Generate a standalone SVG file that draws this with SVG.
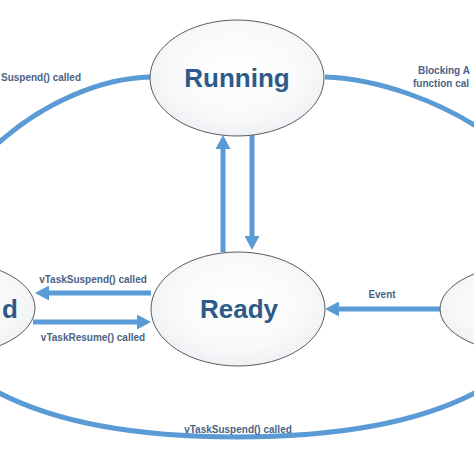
<svg xmlns="http://www.w3.org/2000/svg" width="474" height="474" viewBox="0 0 474 474">
  <defs>
    <radialGradient id="nodeFill" cx="50%" cy="45%" r="60%">
      <stop offset="0" stop-color="#ffffff"/>
      <stop offset="0.65" stop-color="#f8f9fa"/>
      <stop offset="1" stop-color="#eceef2"/>
    </radialGradient>
    <marker id="arrow" viewBox="0 0 14 15" markerWidth="14" markerHeight="15" refX="4" refY="7.5" orient="auto" markerUnits="userSpaceOnUse">
      <path d="M0,0 L14,7.5 L0,15 z" fill="#5b9bd5"/>
    </marker>
  </defs>
  <style>
    .node { fill: url(#nodeFill); stroke: #5a5a5a; stroke-width: 1; }
    .title { font-family: "Liberation Sans", Arial, sans-serif; font-weight: bold; font-size: 26px; fill: #2d5a88; }
    .mid { text-anchor: middle; }
    .end { text-anchor: end; }
    .start { text-anchor: start; }
    .conn { fill: none; stroke: #5b9bd5; stroke-width: 5; }
    .lbl { font-family: "Liberation Sans", Arial, sans-serif; font-weight: bold; font-size: 10px; fill: #4a6384; }
  </style>
  <rect width="474" height="474" fill="#ffffff"/>

  <g id="connectors">
    <path class="conn" d="M150,77 C105,78 45,100 -5,146"/>
    <path class="conn" d="M325,77 C380,79 440,102 482,130"/>
    <path class="conn" d="M-10,388 C60,428 160,437 237,437 C314,437 414,428 484,388"/>
    <line class="conn" x1="252" y1="135" x2="252" y2="240" marker-end="url(#arrow)"/>
    <line class="conn" x1="223" y1="252" x2="223" y2="145" marker-end="url(#arrow)"/>
    <line class="conn" x1="151" y1="293" x2="45" y2="293" marker-end="url(#arrow)"/>
    <line class="conn" x1="33" y1="322" x2="141" y2="322" marker-end="url(#arrow)"/>
    <line class="conn" x1="442" y1="309" x2="335" y2="309" marker-end="url(#arrow)"/>
  </g>

  <g id="labels">
    <text class="lbl end" x="81" y="81">Suspend() called</text>
    <text class="lbl start" x="418" y="74">Blocking A</text>
    <text class="lbl start" x="413" y="87">function cal</text>
    <text class="lbl mid" x="93" y="283">vTaskSuspend() called</text>
    <text class="lbl mid" x="93" y="341">vTaskResume() called</text>
    <text class="lbl mid" x="382" y="298">Event</text>
    <text class="lbl mid" x="238" y="433">vTaskSuspend() called</text>
  </g>

  <g id="running">
    <ellipse class="node" cx="237" cy="78" rx="87" ry="58"/>
    <text class="title mid" x="237" y="87">Running</text>
  </g>
  <g id="ready">
    <ellipse class="node" cx="238" cy="309" rx="87" ry="57"/>
    <text class="title mid" x="239" y="318">Ready</text>
  </g>
  <g id="suspended">
    <ellipse class="node" cx="-53" cy="308" rx="88" ry="47"/>
    <text class="title end" x="18" y="318">d</text>
  </g>
  <g id="blocked">
    <ellipse class="node" cx="532" cy="309" rx="92" ry="45"/>
  </g>
</svg>
